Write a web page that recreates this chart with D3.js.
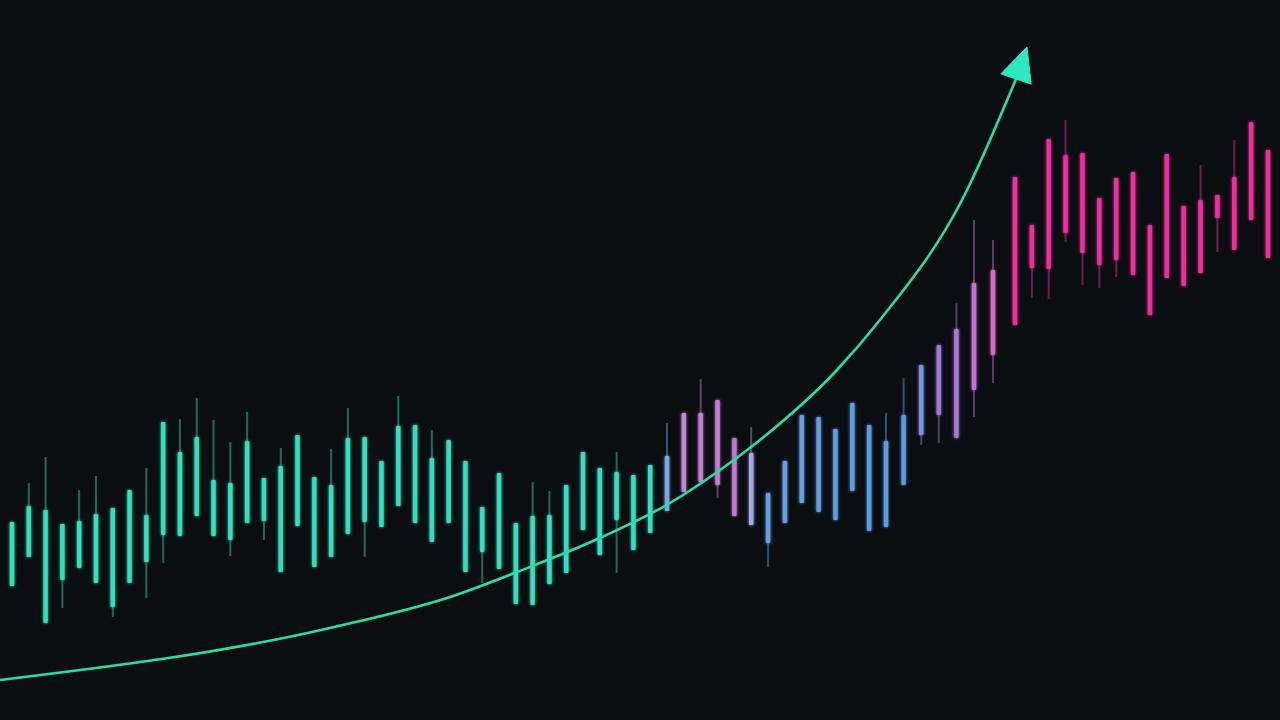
<!DOCTYPE html>
<html>
<head>
<meta charset="utf-8">
<script src="https://cdn.jsdelivr.net/npm/d3@7/dist/d3.min.js"></script>
<style>
  html, body { margin: 0; padding: 0; background: #0b0e10; }
  svg { display: block; }
</style>
</head>
<body>
<svg id="chart" width="1280" height="720"></svg>
<script>
// ---- data (price units) ----
const high = [178,217,243,176,210,224,192,210,232,278,281,302,280,258,288,222,252,265,223,251,292,263,239,304,275,270,260,239,193,227,177,218,209,215,248,232,248,225,235,277,287,321,300,262,273,207,239,285,283,271,297,275,287,322,335,355,397,480,460,523,475,561,580,547,502,522,528,475,546,494,535,505,560,578,550];
const open = [178,194,190,176,179,186,192,210,185,278,248,263,220,217,259,222,234,265,223,215,262,263,239,274,275,242,260,239,193,227,177,184,185,215,248,232,228,225,235,244,287,287,300,262,247,207,239,285,283,271,297,275,259,285,335,355,371,417,430,523,475,561,545,547,502,522,528,475,546,494,500,505,523,578,550];
const close = [114,143,77,120,132,117,93,117,138,165,164,184,164,160,177,179,128,174,133,143,166,178,173,194,177,158,177,128,148,131,96,95,116,127,170,145,180,150,167,189,208,218,215,184,175,157,177,197,188,180,209,169,173,215,265,285,262,310,345,375,432,431,467,447,435,440,425,385,422,414,427,482,450,480,442];
const low = [114,143,77,92,132,117,83,117,102,137,164,184,164,144,177,160,128,174,133,143,166,143,173,194,177,158,177,128,117,131,96,95,116,127,170,145,127,150,167,189,208,218,202,184,175,133,177,197,188,180,209,169,173,215,255,257,262,283,317,375,402,401,458,415,412,423,425,385,422,414,427,448,450,480,442];

// trend arrow (x in candle-index units, y in price units)
const trendX = [-0.71, 18.93, 26.08, 30.07, 35.0, 39.18, 42.15, 44.52, 49.09, 51.64, 56.32, 59.06];
const trendY = [20, 72, 103, 128, 162, 197, 230, 260, 330, 380, 500, 621];
const arrowTipX = 59.71, arrowTipY = 653;

// ---- drawing ----
const W = 1280, H = 720;
const svg = d3.select("#chart");
svg.append("rect").attr("width", W).attr("height", H).attr("fill", "#0b0e10");

const candles = high.map((h, i) => ({ i, high: h, open: open[i], close: close[i], low: low[i] }));

const x = d3.scaleLinear().domain([0, 39, 52, 57, 58, 59, 74]).range([12, 667, 886, 974, 993, 1015, 1268]);
const y = d3.scaleLinear().domain([0, 700]).range([700, 0]);

const color = d3.scaleLinear()
  .domain([0, 38, 39, 40, 43, 44, 45, 53, 54, 55, 57, 58, 59, 74])
  .range(['#33e0b6','#38dcc0','#7fa6e0','#c088d6','#c07ad0','#a9a6e6','#6a9fe2','#5b9be0','#7d90e0','#9c7ad8','#c070d6','#d865c8','#ee2f9f','#ef2f9d'])
  .interpolate(d3.interpolateRgb);

const defs = svg.append("defs");
const glow = defs.append("filter").attr("id", "glow").attr("x", "-200%").attr("y", "-20%").attr("width", "500%").attr("height", "140%");
glow.append("feGaussianBlur").attr("stdDeviation", 1.6).attr("result", "b");
const m = glow.append("feMerge");
m.append("feMergeNode").attr("in", "b");
m.append("feMergeNode").attr("in", "SourceGraphic");

const g = svg.append("g");

// wicks
g.selectAll("line.wick").data(candles).join("line")
  .attr("class", "wick")
  .attr("x1", d => x(d.i)).attr("x2", d => x(d.i))
  .attr("y1", d => y(d.high)).attr("y2", d => y(d.low))
  .attr("stroke", d => color(d.i))
  .attr("stroke-opacity", 0.45)
  .attr("stroke-width", 2);

// bodies
g.selectAll("rect.body").data(candles).join("rect")
  .attr("class", "body")
  .attr("x", d => x(d.i) - 2.2)
  .attr("width", 4.4)
  .attr("y", d => y(Math.max(d.open, d.close)))
  .attr("height", d => Math.abs(y(d.open) - y(d.close)))
  .attr("rx", 1)
  .attr("fill", d => color(d.i))
  .attr("filter", "url(#glow)");

// trend curve
const pts = trendX.map((tx, k) => [x(tx), y(trendY[k])]);
const line = d3.line().curve(d3.curveMonotoneX);
svg.append("path")
  .attr("d", line(pts))
  .attr("fill", "none")
  .attr("stroke", "#2bdcab")
  .attr("stroke-width", 2.6)
  .attr("stroke-linecap", "round");

// arrowhead
const base = pts[pts.length - 1];
const tip = [x(arrowTipX), y(arrowTipY)];
const dx = tip[0] - base[0], dy = tip[1] - base[1];
const len = Math.hypot(dx, dy);
const ux = dx / len, uy = dy / len;
const half = 16;
const tri = [
  tip,
  [base[0] - uy * half, base[1] + ux * half],
  [base[0] + uy * half, base[1] - ux * half]
];
svg.append("path")
  .attr("d", "M" + tri.map(p => p.join(",")).join("L") + "Z")
  .attr("fill", "#2ee8c2")
  .attr("stroke", "#2ee8c2")
  .attr("stroke-width", 1)
  .attr("stroke-linejoin", "round");
</script>
</body>
</html>
